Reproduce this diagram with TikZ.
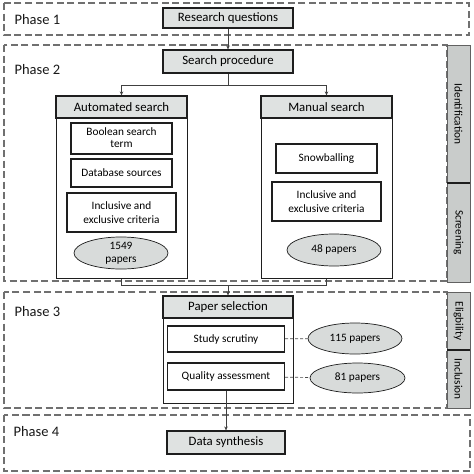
\documentclass[tikz,border=0pt]{standalone}
\usepackage{fontspec}
\setmainfont{Carlito}
\usetikzlibrary{arrows.meta,shapes.geometric}
\definecolor{hdr}{HTML}{DFE2E1}
\definecolor{ell}{HTML}{D8DBDA}
\definecolor{bar}{HTML}{C9CCCB}
\definecolor{ln}{HTML}{1E1E1E}
\definecolor{dash}{HTML}{707070}
\tikzset{
  phasebox/.style={draw=dash,dashed,dash pattern=on 7pt off 3.5pt,line width=1.1pt},
  phaselabel/.style={anchor=west,font=\fontsize{14.5}{16}\selectfont,text=black!90},
  hdrbox/.style={draw=ln,fill=hdr,line width=1.2pt,font=\fontsize{12.8}{14}\selectfont,inner sep=0pt},
  outerbox/.style={draw=ln,line width=1pt,inner sep=0pt},
  innerbox/.style={draw=ln,line width=1.2pt,fill=white,font=\fontsize{11.3}{13.5}\selectfont,align=center,inner sep=0pt},
  paperell/.style={ellipse,draw=ln,fill=ell,line width=0.7pt,font=\fontsize{11.3}{13.5}\selectfont,align=center,inner sep=0pt},
  sidebar/.style={draw=ln!70,fill=bar,line width=0.6pt,inner sep=0pt},
  sidetext/.style={rotate=-90,font=\fontsize{11.3}{12}\selectfont},
  conn/.style={draw=ln!85,line width=0.8pt},
  arr/.style={conn,-{Stealth[length=4pt,width=3.5pt]}},
  dconn/.style={draw=ln!80,line width=0.7pt,dashed,dash pattern=on 3pt off 2pt}
}
\begin{document}
\begin{tikzpicture}[x=1pt,y=-1pt]
\useasboundingbox[fill=white] (0,0) rectangle (474,474);
% phase boxes
\draw[phasebox] (4,3) rectangle (469,35);
\draw[phasebox] (4,45) rectangle (447,281);
\draw[phasebox] (4,292) rectangle (447,408);
\draw[phasebox] (4,415) rectangle (470,471);
\node[phaselabel] (p1) at (11,20) {Phase 1};
\node[phaselabel] (p2) at (11,70) {Phase 2};
\node[phaselabel] (p3) at (11,312) {Phase 3};
\node[phaselabel] (p4) at (10,432) {Phase 4};
% side bars
\node[sidebar,minimum width=23pt,minimum height=138pt] (bid) at (458.5,114) {};
\node[sidebar,minimum width=23pt,minimum height=99pt] (bsc) at (458.5,232.5) {};
\draw[ln,line width=1.1pt] (447,183) -- (470,183);
\node[sidetext] at (bid) {Identification};
\node[sidetext] at (bsc) {Screening};
\node[sidebar,minimum width=23pt,minimum height=58pt] (bel) at (458.5,321) {};
\node[sidebar,minimum width=23pt,minimum height=58pt] (bin) at (458.5,379) {};
\draw[ln,line width=1.1pt] (447,350) -- (470,350);
\node[sidetext] at (bel) {Eligbility};
\node[sidetext] at (bin) {Inclusion};
% phase 1 and 2 top
\node[hdrbox,minimum width=130pt,minimum height=20pt] (rq) at (228,18) {Research questions};
\node[hdrbox,minimum width=130pt,minimum height=23pt] (sp) at (228,61.5) {Search procedure};
% automated search
\node[outerbox,minimum width=131pt,minimum height=182pt] (auto) at (121.5,187) {};
\node[hdrbox,minimum width=131pt,minimum height=22pt] (autoh) at (121.5,107) {Automated search};
\node[innerbox,minimum width=101pt,minimum height=31pt] (bool) at (121.5,138.5) {\begin{tabular}{@{}c@{}}Boolean search\\[-1.5pt] term\end{tabular}};
\node[innerbox,minimum width=101pt,minimum height=28pt] (db) at (121.5,173) {Database sources};
\node[innerbox,minimum width=109pt,minimum height=39pt] (inca) at (121.5,212.5) {Inclusive and\\exclusive criteria};
\node[paperell,minimum width=94pt,minimum height=30pt] (ea) at (121,253) {1549\\papers};
% manual search
\node[outerbox,minimum width=131pt,minimum height=182pt] (man) at (326.5,187) {};
\node[hdrbox,minimum width=131pt,minimum height=22pt] (manh) at (326.5,107) {Manual search};
\node[innerbox,minimum width=101pt,minimum height=29pt] (snow) at (326.5,158.5) {Snowballing};
\node[innerbox,minimum width=109pt,minimum height=39pt] (incm) at (326.5,201.5) {Inclusive and\\exclusive criteria};
\node[paperell,minimum width=94pt,minimum height=32pt] (em) at (334,250) {48 papers};
% paper selection
\node[outerbox,minimum width=130pt,minimum height=107pt] (ps) at (228,349.5) {};
\node[hdrbox,minimum width=130pt,minimum height=22pt] (psh) at (228,307) {Paper selection};
\node[innerbox,minimum width=117pt,minimum height=26pt] (ss) at (226,339) {Study scrutiny};
\node[innerbox,minimum width=117pt,minimum height=27pt] (qa) at (226,376.5) {Quality assessment};
\node[paperell,minimum width=94pt,minimum height=31pt] (e115) at (355,338.5) {115 papers};
\node[paperell,minimum width=95pt,minimum height=30pt] (e81) at (357.5,378) {81 papers};
% data synthesis
\node[hdrbox,minimum width=118pt,minimum height=23pt] (ds) at (226,442.5) {Data synthesis};
% connectors
\coordinate (split) at (228,85);
\coordinate (merge) at (228,285);
\draw[arr] (rq) -- (sp);
\draw[conn] (sp) -- (split);
\draw[arr] (split) -| (autoh.north);
\draw[arr] (split) -| (manh.north);
\draw[conn] (auto.south) |- (merge);
\draw[conn] (man.south) |- (merge);
\draw[arr] (merge) -- (psh.north);
\draw[arr] (qa) -- (ds);
\draw[dconn] (ss) -- (e115);
\draw[dconn] (qa) -- (e81);
\end{tikzpicture}
\end{document}
